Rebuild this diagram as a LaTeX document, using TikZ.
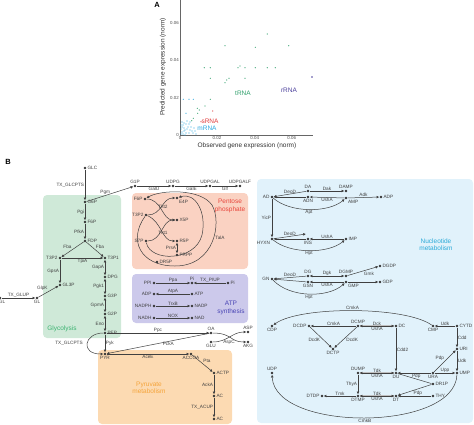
\documentclass[tikz,border=0pt]{standalone}
\usepackage{fontspec}
\setmainfont{Liberation Sans}
\usetikzlibrary{arrows.meta}

\definecolor{glyfill}{HTML}{CFE9D8}
\definecolor{ppfill}{HTML}{FAD2C2}
\definecolor{atpfill}{HTML}{CCC9EB}
\definecolor{pyrfill}{HTML}{FCDAB2}
\definecolor{nucfill}{HTML}{E1F2FB}
\definecolor{glytext}{HTML}{3CB371}
\definecolor{pptext}{HTML}{E8463C}
\definecolor{atptext}{HTML}{4A45B5}
\definecolor{pyrtext}{HTML}{F5A43A}
\definecolor{nuctext}{HTML}{2BAAD8}
\definecolor{trnacol}{HTML}{2E9E6A}
\definecolor{rrnacol}{HTML}{4B3F9B}
\definecolor{srnacol}{HTML}{E03C3C}
\definecolor{mrnacol}{HTML}{2AA7E0}

\newcommand{\tinyfs}{\fontsize{4.7}{5.4}\selectfont}
\newcommand{\tickfs}{\fontsize{4.4}{5}\selectfont}
\newcommand{\boxfs}{\fontsize{6.5}{7.3}\selectfont}

\begin{document}
\begin{tikzpicture}[x=1pt,y=-1pt]
    \tikzstyle{met} = [circle, fill=black!80, inner sep=0pt, minimum size=2.9pt]
    \tikzstyle{arrow} = [draw=black!75, line width=0.5pt, -{Triangle[length=2.5pt,width=2.5pt]}, shorten >=0.3pt]
    \tikzstyle{both} = [arrow, {Triangle[length=2.5pt,width=2.5pt]}-{Triangle[length=2.5pt,width=2.5pt]}, shorten <=0.3pt]
    \tikzstyle{txt} = [font=\tinyfs, text=black!75, inner sep=0.7pt]
    \tikzstyle{band} = [line width=2.8pt, draw=black!25]
    \tikzstyle{pathway} = [rounded corners=4pt]
    \tikzstyle{title} = [font=\boxfs, align=center]
    \tikzset{every label/.style={txt}}

    \useasboundingbox (0,0) rectangle (474,424);

    % ---- panel A
    \node[font=\bfseries\fontsize{7.5}{8}\selectfont] (panela) at (157,5) {A};
    \draw[black!60, line width=0.5pt] (180,0) -- (180,135) -- (313,135);
    \foreach \v/\x [count=\i] in {0/180, 0.02/217, 0.04/254.7, 0.06/291.7}
        \node[font=\tickfs, text=black!70, below, inner sep=1pt] (xt\i) at (\x,135) {\v};
    \foreach \v/\y [count=\i] in {0/135, 0.02/97.7, 0.04/60, 0.06/23.3}
        \node[font=\tickfs, text=black!70, left, inner sep=1pt] (yt\i) at (180,\y) {\v};
    \node[title, text=black!80] (xlab) at (247,146) {Observed gene expression (norm)};
    \node[title, text=black!80, rotate=90] (ylab) at (163,67) {Predicted gene expression (norm)};

    \foreach \p in {(225,45.7),(267.3,34),(288.7,45.7),(255.3,47.3),(204.3,67.7),(210.3,67.7),
        (210.3,78.3),(240,66),(238,67.7),(245,67.7),(255.3,67.7),(267.3,67.7),(275.3,67.7),
        (225,82.7),(226.7,80),(229,78.3),(245,78.3),(210.3,99.3),(205,106),(199.3,110),
        (197.7,113.3),(193.3,118.3),(191.7,120.7),(197.3,108.3)}
        \fill[trnacol] \p circle (0.6pt);
    \fill[rrnacol] (312,77) circle (0.8pt);
    \foreach \p in {(212.7,111),(201,121.7)}
        \fill[srnacol] \p circle (0.6pt);
    \foreach \p in {(183.3,99.3),(189,99.3),(193.3,99.3),(186,113.3),(182,122),(183,125),(184,128),
        (185,130),(182,132),(186,133),(188,127),(190,130),(187,121),(189,124),(191,127),(192,131),
        (194,128),(183,134),(185,135),(181,129),(184,123),(193,133),(195,131),(196,134),
        (181,125),(182,127),(184,131),(186,124),(187,129),(189,133),(190,122),(181,134)}
        \fill[mrnacol] \p circle (0.6pt);
    \node[title, text=trnacol] (trna) at (243,93) {tRNA};
    \node[title, text=rrnacol] (rrna) at (289,90) {rRNA};
    \node[title, text=srnacol] (srna) at (210,121) {sRNA};
    \node[title, text=mrnacol] (mrna) at (207,128.5) {mRNA};

    % ---- panel B: pathway boxes
    \node[font=\bfseries\fontsize{7.5}{8}\selectfont] (panelb) at (8,162) {B};
    \fill[pathway, glyfill] (43,195) rectangle (121,338);
    \fill[pathway, ppfill] (132,193) rectangle (248,269);
    \fill[pathway, atpfill] (132,274) rectangle (248,323);
    \fill[pathway, pyrfill] (98,350) rectangle (232,424);
    \fill[pathway, nucfill] (257,179) rectangle (473,423);
    \node[title, text=glytext] (glyco) at (62,329) {Glycolysis};
    \node[title, text=pptext] (pentose) at (230,206) {Pentose\\phosphate};
    \node[title, text=atptext] (atpsyn) at (231,308) {ATP\\synthesis};
    \node[title, text=pyrtext] (pyrmet) at (149,388) {Pyruvate\\metabolism};
    \node[title, text=nuctext] (nucmet) at (436,245) {Nucleotide\\metabolism};

    % glycolysis
    \node[met, label=right:GLC] (glc) at (85,168) {};
    \node[met, label=right:G6P] (g6p) at (85,202) {};
    \node[met, label=right:F6P] (f6p) at (85,222) {};
    \node[met, label=right:FDP] (fdp) at (85,241) {};
    \node[met, label=left:T3P2] (t3p2) at (60,258) {};
    \node[met, label=right:T3P1] (t3p1) at (105,258) {};
    \node[met, label=right:GL3P] (gl3p) at (60,285) {};
    \node[met, label=right:DPG] (dpg) at (105,277) {};
    \node[met, label=right:G3P] (g3p) at (105,296) {};
    \node[met, label=right:G2P] (g2p) at (105,314) {};
    \node[met, label=right:PEP] (pep) at (105,333) {};
    \node[met, label=below:PYR] (pyr) at (105,354) {};
    \node[met, label=below:GL] (gl) at (37,298) {};
    \node[met, label={[xshift=2pt]below:GL}] (glout) at (0,298) {};

    \draw[arrow] (glc) -- node[txt, left] (rtxglc) {TX\_GLCPTS} (g6p);
    \draw[arrow] (g6p) -- node[txt, left] (rpgi) {Pgi} (f6p);
    \draw[arrow] (f6p) -- node[txt, left] (rpfka) {PfkA} (fdp);
    \draw[arrow] (fdp) -- node[txt, above left] (rfba1) {Fba} (t3p2);
    \draw[arrow] (fdp) -- node[txt, above right] (rfba2) {Fba} (t3p1);
    \draw[arrow] (t3p2) -- node[txt, below] (rtpia) {TpiA} (t3p1);
    \draw[arrow] (t3p2) -- node[txt, left] (rgpsa) {GpsA} (gl3p);
    \draw[both] (t3p1) -- node[txt, left] (rgapa) {GapA} (dpg);
    \draw[both] (dpg) -- node[txt, left] (rpgk) {Pgk1} (g3p);
    \draw[both] (g3p) -- node[txt, left] (rgpma) {GpmA} (g2p);
    \draw[both] (g2p) -- node[txt, left] (reno) {Eno} (pep);
    \draw[arrow] (pep) -- node[txt, right] (rpyk) {Pyk} (pyr);
    \draw[arrow] (pep) .. controls (84,333) and (80,354) .. (pyr);
    \node[txt] (rtxglc2) at (69,343) {TX\_GLCPTS};
    \draw[arrow] (glout) -- node[txt, above] (rtxglup) {TX\_GLUP} (gl);
    \draw[arrow] (gl) -- node[txt, above left] (rglpk) {GlpK} (gl3p);

    % sugar nucleotides
    \node[met, label=above:G1P] (g1p) at (135,186) {};
    \node[met, label=above:UDPG] (udpg) at (173,186) {};
    \node[met, label=above:UDPGAL] (udpgal) at (210,186) {};
    \node[met, label=above:UDPGALF] (udpgalf) at (240,186) {};
    \draw[arrow] (g6p) -- node[txt, above, pos=0.4] (rpgm) {Pgm} (g1p);
    \draw[arrow] (g1p) -- node[txt, below] (rgalu) {GalU} (udpg);
    \draw[arrow] (udpg) -- node[txt, below] (rgale) {GalE} (udpgal);
    \draw[arrow] (udpgal) -- node[txt, below] (rglf) {Glf} (udpgalf);

    % pentose phosphate
    \node[met, label=left:F6P] (ppf6p) at (145,199) {};
    \node[met, label=below right:E4P] (e4p) at (177,198) {};
    \node[met, label=left:T3P2] (ppt3p2) at (146,215) {};
    \node[met, label=right:X5P] (x5p) at (177,220) {};
    \node[met, label=left:S7P] (s7p) at (146,241) {};
    \node[met, label=right:R5P] (r5p) at (177,241) {};
    \node[met, label=right:PRPP] (prpp) at (177,255) {};
    \node[met, label=right:DR5P] (dr5p) at (157,262) {};
    \draw[arrow] (ppf6p) .. controls (162,199) and (162,220) .. (x5p);
    \draw[arrow] (ppt3p2) .. controls (162,215) and (162,198) .. (e4p);
    \draw[arrow] (ppt3p2) .. controls (162,222) and (162,241) .. (r5p);
    \draw[arrow] (s7p) .. controls (162,241) and (162,220) .. (x5p);
    \node[txt] (rtkt2) at (163,207) {Tkt2};
    \node[txt] (rtkt1) at (163,233) {Tkt1};
    \draw[arrow] (ppt3p2) .. controls (128,240) and (140,266) .. (175,266)
        .. controls (215,266) and (222,222) .. (212,205)
        .. controls (200,188) and (160,190) .. (ppf6p);
    \draw[arrow] (s7p) .. controls (150,262) and (195,262) .. (202,235)
        .. controls (207,212) and (195,192) .. (e4p);
    \node[txt] (rtala) at (220,238) {TalA};
    \draw[both] (r5p) -- node[txt, left] (rprsa) {PrsA} (prpp);

    % ATP synthesis
    \node[met, label=left:PPI] (ppi) at (154,283) {};
    \node[met, label=above:Pi] (pi) at (192,283) {};
    \node[met, label=right:Pi] (piout) at (228,283) {};
    \node[met, label=left:ADP] (adp) at (154,294) {};
    \node[met, label=right:ATP] (atp) at (192,294) {};
    \node[met, label=left:NADPH] (nadph) at (154,306) {};
    \node[met, label=right:NADP] (nadp) at (192,306) {};
    \node[met, label=left:NADH] (nadh) at (154,318) {};
    \node[met, label=right:NAD] (nad) at (192,318) {};
    \draw[arrow] (ppi) -- node[txt, above] (rppa) {Ppa} (pi);
    \draw[arrow] (piout) -- node[txt, above] (rtxpiup) {TX\_PIUP} (pi);
    \draw[arrow] (atp) -- node[txt, above] (ratpa) {AtpA} (adp);
    \draw[arrow] (nadph) -- node[txt, above] (rtrxb) {TrxB} (nadp);
    \draw[arrow] (nadh) -- node[txt, above] (rnox) {NOX} (nad);

    % anaplerotic + aspartate
    \node[met, label=above:OA] (oa) at (211,333) {};
    \node[met, label=above:ASP] (asp) at (248,332) {};
    \node[met, label=below:GLU] (glu) at (211,342) {};
    \node[met, label=below:AKG] (akg) at (248,342) {};
    \draw[arrow] (pep) -- node[txt, above] (rppc) {Ppc} (oa);
    \draw[arrow] (oa) -- node[txt, below, pos=0.4] (rpcka) {PckA} (pyr);
    \draw[arrow] (oa) .. controls (232,333) and (230,342) .. (akg);
    \draw[arrow] (glu) .. controls (228,342) and (232,332) .. (asp);
    \node[txt] (raspc) at (229,342) {AspC};

    % pyruvate metabolism
    \node[met, label=below:ACCOA] (accoa) at (191,354) {};
    \node[met, label=right:ACTP] (actp) at (214,373) {};
    \node[met, label=right:AC] (ac) at (214,396) {};
    \node[met, label=right:AC] (acout) at (214,419) {};
    \draw[arrow] (pyr) -- node[txt, below] (racee) {AceE} (accoa);
    \draw[arrow] (accoa) -- node[txt, above right] (rpta) {Pta} (actp);
    \draw[arrow] (actp) -- node[txt, left] (racka) {AckA} (ac);
    \draw[arrow] (ac) -- node[txt, left] (rtxacup) {TX\_ACUP} (acout);

    % purines
    \node[met, label=left:AD] (ad) at (272,197) {};
    \node[met, label=above:DA] (da) at (308,191) {};
    \node[met, label=below:ADN] (adn) at (308,197) {};
    \node[met, label=above:DAMP] (damp) at (346,191) {};
    \node[met, label=below right:AMP] (amp) at (346,198) {};
    \node[met, label=right:ADP] (nadp2) at (381,197) {};
    \node[met, label=below left:HYXN] (hyxn) at (272,239) {};
    \node[met, label=below:INS] (ins) at (308,239) {};
    \node[met, label=right:IMP] (imp) at (346,239) {};
    \coordinate (r1p) at (306,234);
    \node[met, label=left:GN] (gn) at (272,279) {};
    \node[met, label=above:DG] (dg) at (308,276) {};
    \node[met, label=below:GSN] (gsn) at (308,282) {};
    \node[met, label=above:DGMP] (dgmp) at (346,276) {};
    \node[met, label=below right:GMP] (gmp) at (346,282) {};
    \node[met, label=right:DGDP] (dgdp) at (380,266) {};
    \node[met, label=right:GDP] (gdp) at (380,282) {};

    \draw[arrow] (da) -- node[txt, above] (rdeod1) {DeoD} (ad);
    \draw[arrow] (adn) -- (ad);
    \draw[arrow] (da) -- node[txt, above] (rdak) {Dak} (damp);
    \draw[arrow] (amp) -- node[txt, below] (rusha1) {UshA} (adn);
    \draw[arrow] (amp) -- node[txt, above] (radk) {Adk} (nadp2);
    \draw[arrow] (ad) .. controls (290,213) and (328,213) .. node[txt, below] (rapt) {Apt} (amp);
    \draw[arrow] (ad) -- node[txt, left] (ryicp) {YicP} (hyxn);
    \draw[arrow] (hyxn) -- node[txt, above] (rdeod2) {DeoD} (r1p);
    \draw[arrow] (ins) -- (hyxn);
    \draw[arrow] (imp) -- node[txt, above] (rusha2) {UshA} (ins);
    \draw[arrow] (hyxn) .. controls (290,254) and (328,254) .. node[txt, below] (rhpt1) {Hpt} (imp);
    \draw[arrow] (dg) -- node[txt, above] (rdeod3) {DeoD} (gn);
    \draw[arrow] (gsn) -- (gn);
    \draw[both] (dg) -- node[txt, above] (rdgk) {Dgk} (dgmp);
    \draw[arrow] (gmp) -- node[txt, below] (rusha3) {UshA} (gsn);
    \draw[arrow] (dgmp) -- node[txt, below right] (rgmk) {Gmk} (dgdp);
    \draw[arrow] (gmp) -- (gdp);
    \draw[arrow] (gn) .. controls (290,298) and (328,298) .. node[txt, below] (rhpt2) {Hpt} (gmp);

    % pyrimidines
    \node[met, label=below:CDP] (cdp) at (272,326) {};
    \node[met, label=left:DCDP] (dcdp) at (309,326) {};
    \node[met, label=above:DCMP] (dcmp) at (358,326) {};
    \node[met, label=right:DC] (dc) at (396,326) {};
    \node[met, label=below:DCTP] (dctp) at (333,349) {};
    \node[met, label=below:CMP] (cmp) at (433,326) {};
    \node[met, label=right:CYTD] (cytd) at (457,326) {};
    \node[met, label=right:URI] (uri) at (457,349) {};
    \node[met, label=right:UMP] (ump) at (457,373) {};
    \node[met, label=below:URA] (ura) at (433,373) {};
    \node[met, label=below:DU] (du) at (396,373) {};
    \node[met, label=above:DUMP] (dump) at (358,373) {};
    \node[met, label=right:DR1P] (dr1p) at (433,384) {};
    \node[met, label=below:DTMP] (dtmp) at (358,396) {};
    \node[met, label=below:DT] (dt) at (396,396) {};
    \node[met, label=right:THY] (thy) at (433,396) {};
    \node[met, label=left:DTDP] (dtdp) at (322,396) {};
    \node[met, label=above:UDP] (udp) at (272,373) {};

    \draw[arrow] (cmp) .. controls (405,306) and (300,306) .. node[txt, above] (rcmka1) {CmkA} (cdp);
    \draw[arrow] (cytd) -- node[txt, above] (rudk1) {Udk} (cmp);
    \draw[arrow] (dcmp) -- node[txt, above] (rcmka2) {CmkA} (dcdp);
    \draw[arrow] (dcdp) -- node[txt, below left] (rdcdk1) {DcdK} (dctp);
    \draw[arrow] (dcmp) -- node[txt, below right] (rdcdk2) {DcdK} (dctp);
    \draw[band] (dcmp) -- (dc);
    \draw[both] (dcmp) -- node[txt, above] (rdck) {Dck} node[txt, below] (rusha4) {UshA} (dc);
    \draw[arrow] (dc) -- node[txt, right] (rcdd2) {Cdd2} (du);
    \draw[arrow] (cytd) -- node[txt, right] (rcdd) {Cdd} (uri);
    \draw[arrow] (uri) -- node[txt, right] (rudk2) {Udk} (ump);
    \draw[arrow] (ura) -- node[txt, above] (rupp) {Upp} (ump);
    \draw[arrow] (ura) -- node[txt, above left] (rpdp1) {Pdp} (uri);
    \draw[arrow] (ura) -- (du);
    \draw[draw=black!75, line width=0.5pt] (du) -- node[txt, above, pos=0.55] (rpdp2) {Pdp} (dr1p);
    \draw[arrow] (dr1p) -- (dt);
    \draw[arrow] (thy) -- node[txt, above, pos=0.4] (rpdp3) {Pdp} (dt);
    \draw[band] (dump) -- (du);
    \draw[both] (dump) -- node[txt, above] (rtdk1) {Tdk} node[txt, below] (rusha5) {UshA} (du);
    \draw[arrow] (dump) -- node[txt, left] (rthya) {ThyA} (dtmp);
    \draw[band] (dtmp) -- (dt);
    \draw[both] (dtmp) -- node[txt, above] (rtdk2) {Tdk} node[txt, below] (rusha6) {UshA} (dt);
    \draw[arrow] (dtmp) -- node[txt, above] (rtmk) {Tmk} (dtdp);
    \draw[arrow] (ump) .. controls (455,432) and (275,432) .. node[txt, below] (rcmkb) {CmkB} (udp);
\end{tikzpicture}
\end{document}
